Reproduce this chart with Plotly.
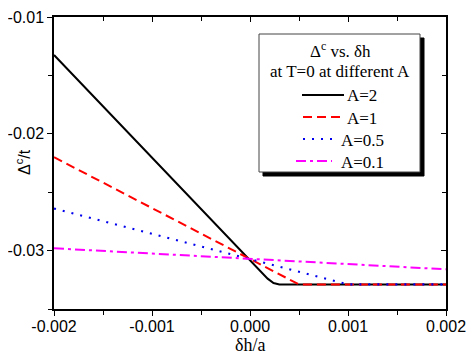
import plotly.graph_objects as go

# ---- data ----
x_A2 = [-0.002, 0.00018, 0.00024, 0.0003, 0.002]
y_A2 = [-0.01325, -0.0324, -0.03278, -0.0329, -0.0329]
x_A1 = [-0.002, 0.0005, 0.002]
y_A1 = [-0.0220, -0.0329, -0.0329]
x_A05 = [-0.002, 0.001, 0.002]
y_A05 = [-0.0264, -0.0329, -0.0329]
x_A01 = [-0.002, 0.002]
y_A01 = [-0.0298, -0.0316]

series_names = ["A=2", "A=1", "A=0.5", "A=0.1"]
x_tickvals = [-0.002, -0.001, 0.0, 0.001, 0.002]
x_ticktext = ["-0.002", "-0.001", "0.000", "0.001", "0.002"]
y_tickvals = [-0.01, -0.02, -0.03]
y_ticktext = ["-0.01", "-0.02", "-0.03"]
x_range = [-0.002, 0.002]
y_range = [-0.035, -0.01]

serif = "Liberation Serif"
sans = "Liberation Sans"

# page body has an 8px default margin: figure spans (8,8)-(474,356)
OFF = 8
PL, PR, PT, PB = 54, 446, 17, 309  # plot area in window pixels
PW, PH = PR - PL, PB - PT


def px(x):
    return (x - PL) / PW


def py(y):
    return (PB - y) / PH


fig = go.Figure()
styles = [
    dict(color="black", width=2, dash="solid"),
    dict(color="#ff0000", width=2, dash="9px,5px"),
    dict(color="#0000ee", width=2.2, dash="2px,7px"),
    dict(color="#ff00ff", width=2, dash="10px,4px,3px,4px"),
]
for xs, ys, name, st in zip([x_A2, x_A1, x_A05, x_A01], [y_A2, y_A1, y_A05, y_A01], series_names, styles):
    fig.add_trace(go.Scatter(x=xs, y=ys, mode="lines", name=name, line=st, showlegend=False))

# dummy trace to create mirrored axes with inward ticks
fig.add_trace(go.Scatter(x=[], y=[], xaxis="x2", yaxis="y2", showlegend=False, hoverinfo="skip"))

axis_common = dict(showgrid=False, zeroline=False, linecolor="black", linewidth=1.5,
                   tickcolor="black", tickwidth=1.2, automargin=False)

fig.update_layout(
    width=474 - OFF, height=356 - OFF,
    margin=dict(l=PL - OFF, r=474 - PR, t=PT - OFF, b=356 - PB, autoexpand=False),
    paper_bgcolor="white", plot_bgcolor="white",
    showlegend=False,
    xaxis=dict(range=x_range, tickvals=x_tickvals, ticktext=x_ticktext, ticks="outside", ticklen=5,
               ticklabelstandoff=-3,
               minor=dict(dtick=0.0005, ticks="outside", ticklen=4, tickcolor="black", tickwidth=1.2),
               tickfont=dict(family=sans, size=16, color="black"), mirror=True, **axis_common),
    yaxis=dict(range=y_range, tickvals=y_tickvals, ticktext=y_ticktext, ticks="outside", ticklen=5,
               minor=dict(dtick=0.005, ticks="outside", ticklen=4, tickcolor="black", tickwidth=1.2),
               tickfont=dict(family=sans, size=16, color="black"), mirror=True, **axis_common),
    xaxis2=dict(range=x_range, overlaying="x", side="top", tickvals=x_tickvals, ticks="inside", ticklen=5,
                showticklabels=False, showgrid=False, zeroline=False, showline=False, automargin=False,
                tickcolor="black", tickwidth=1.2,
                minor=dict(dtick=0.0005, ticks="inside", ticklen=4, tickcolor="black", tickwidth=1.2)),
    yaxis2=dict(range=y_range, overlaying="y", side="right", tickvals=y_tickvals, ticks="inside", ticklen=5,
                showticklabels=False, showgrid=False, zeroline=False, showline=False, automargin=False,
                tickcolor="black", tickwidth=1.2,
                minor=dict(dtick=0.005, ticks="inside", ticklen=4, tickcolor="black", tickwidth=1.2)),
)

# legend box with shadow
bx0, bx1 = px(259), px(420)
by0, by1 = py(172), py(34)
dx, dy = 4 / PW, 4 / PH
fig.add_shape(type="rect", xref="paper", yref="paper", x0=bx0 + dx, x1=bx1 + dx, y0=by0 - dy, y1=by1 - dy,
              fillcolor="black", line=dict(color="black", width=1), layer="above")
fig.add_shape(type="rect", xref="paper", yref="paper", x0=bx0, x1=bx1, y0=by0, y1=by1,
              fillcolor="white", line=dict(color="#444", width=1), layer="above")

fig.add_annotation(xref="paper", yref="paper", x=px(340), y=py(50),
                   text="Δ<sup>c</sup> vs. δh", showarrow=False, xanchor="center", yanchor="middle",
                   font=dict(family=serif, size=17, color="black"))
fig.add_annotation(xref="paper", yref="paper", x=px(340), y=py(72),
                   text="at T=0 at different A", showarrow=False, xanchor="center", yanchor="middle",
                   font=dict(family=serif, size=17, color="black"))

# legend entries (sample line + label)
leg_y = [95, 117, 139, 161]
leg_x0 = [302, 303, 303, 296]
leg_x1 = [344, 344, 338, 332]
leg_tx = [347, 347, 341, 341]
for name, st, ly, x0, x1, tx in zip(series_names, styles, leg_y, leg_x0, leg_x1, leg_tx):
    fig.add_shape(type="line", xref="paper", yref="paper", x0=px(x0), x1=px(x1), y0=py(ly), y1=py(ly),
                  line=st, layer="above")
    fig.add_annotation(xref="paper", yref="paper", x=px(tx), y=py(ly + 1), text=name, showarrow=False,
                       xanchor="left", yanchor="middle", xshift=-2,
                       font=dict(family=serif, size=17, color="black"))

# axis titles
fig.add_annotation(xref="paper", yref="paper", x=px(23), y=py(162),
                   text="Δ<sup>c</sup>/t", textangle=-90, showarrow=False, xanchor="center", yanchor="middle",
                   font=dict(family=sans, size=16, color="black"))
fig.add_annotation(xref="paper", yref="paper", x=0.5, y=py(345),
                   text="δh/a", showarrow=False, xanchor="center", yanchor="middle",
                   font=dict(family=serif, size=18, color="black"))

fig.write_html("out.html")
